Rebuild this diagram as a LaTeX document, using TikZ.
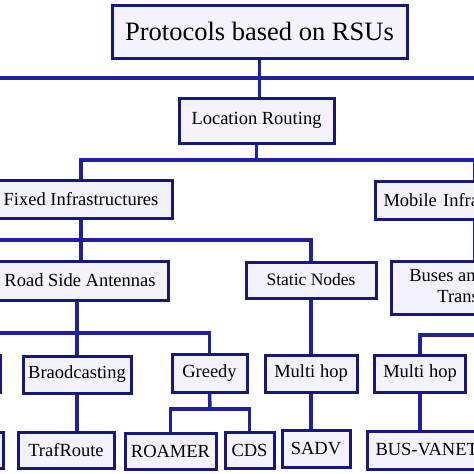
\documentclass[tikz,border=0pt]{standalone}
\usepackage{fontspec}
\setmainfont{Liberation Serif}
\usetikzlibrary{positioning,calc}
\definecolor{RsuNavy}{HTML}{18187C}
\definecolor{RsuLine}{HTML}{2020A0}
\definecolor{RsuPaper}{HTML}{F4F2FC}

\begin{document}
\begin{tikzpicture}[x=1pt,y=-1pt,
    box/.style={draw=RsuNavy,line width=3pt,fill=RsuPaper,inner sep=0pt,
      align=center,font=\fontsize{18.5}{21}\selectfont},
    link/.style={draw=RsuLine,line width=3.5pt}
  ]
  \useasboundingbox (0,0) rectangle (474,474);
  \clip (0,0) rectangle (474,474);
  % levels 0 and 1
  \node[box,minimum width=295pt,minimum height=53pt,
    font=\fontsize{26.5}{30}\selectfont] (rsu) at (259.5,31.5) {Protocols based on RSUs};
  \node[box,minimum width=155pt,minimum height=45pt] (loc) at (256.5,120.5) {Location Routing};
  \node[box,minimum width=182pt,minimum height=38pt] (fix) at (81,199) {Fixed Infrastructures};
  \node[box,anchor=west,text width=182pt,align=left,inner xsep=8pt,
    minimum height=38pt] (mob) at (374,200) {Mobile Infrastructures};
  % level 2
  \node[box,minimum width=176pt,minimum height=39pt] (rsa) at (80,280.5) {Road Side Antennas};
  \node[box,minimum width=130pt,minimum height=36pt,
    font=\fontsize{17.5}{21}\selectfont] (sta) at (311,280) {Static Nodes};
  \node[box,minimum width=164pt,minimum height=53pt] (bus) at (473,287.5) {Buses and Public\\Transport};
  % level 3
  \node[box,anchor=east,minimum width=80pt,minimum height=37pt] (lb3) at (2,373.5) {};
  \node[box,minimum width=108pt,minimum height=37pt] (brd) at (77,374.5) {Braodcasting};
  \node[box,minimum width=75pt,minimum height=38pt] (grd) at (209.5,373) {Greedy};
  \node[box,minimum width=92pt,minimum height=37pt] (mh1) at (311,373.5) {Multi hop};
  \node[box,minimum width=91pt,minimum height=37pt] (mh2) at (420,373.5) {Multi hop};
  % level 4
  \node[box,anchor=east,minimum width=80pt,minimum height=36pt] (lb4) at (5,450) {};
  \node[box,minimum width=96pt,minimum height=36pt] (trf) at (66,450) {TrafRoute};
  \node[box,minimum width=91pt,minimum height=36pt] (roa) at (170.5,451) {ROAMER};
  \node[box,minimum width=49pt,minimum height=36pt] (cds) at (249.5,450) {CDS};
  \node[box,minimum width=68pt,minimum height=37pt] (sad) at (316,448.5) {SADV};
  \node[box,anchor=west,inner xsep=8pt,minimum height=38pt] (bsv) at (366,450) {BUS-VANET};
  % junctions
  \coordinate (j0l) at (-10,78);
  \coordinate (j0r) at (490,78);
  \coordinate (j1) at (256.5,160);
  \coordinate (j2l) at (-10,240);
  \coordinate (j2) at (81,240);
  \coordinate (j3) at (77,333);
  \coordinate (j4) at (210,409);
  \coordinate (j5) at (490,335);
  % connectors
  \draw[link] (j0l) -- (j0r);
  \draw[link] (rsu.south) -- (rsu.south |- loc.north);
  \draw[link] (loc.south) -- (j1);
  \draw[link] (fix.north) |- (j1) -| (mob.north);
  \draw[link] (mob.south) -- (mob.south |- bus.north);
  \draw[link] (fix.south) -- (fix.south |- rsa.north);
  \draw[link] (j2l) -- (j2) -| (sta.north);
  \draw[link] (rsa.south -| brd.north) -- (brd.north);
  \draw[link] (lb3.north) |- (j3) -| (grd.north);
  \draw[link] (lb3) -- (lb4);
  \draw[link] (sta) -- (mh1);
  \draw[link] (j5) -| (mh2.north);
  \draw[link] (brd.south) -- (brd.south |- trf.north);
  \draw[link] (grd.south) -- (j4);
  \draw[link] (roa.north) |- (j4) -| (cds.north);
  \draw[link] (mh1.south) -- (mh1.south |- sad.north);
  \draw[link] (mh2.south) -- (mh2.south |- bsv.north);
\end{tikzpicture}
\end{document}
